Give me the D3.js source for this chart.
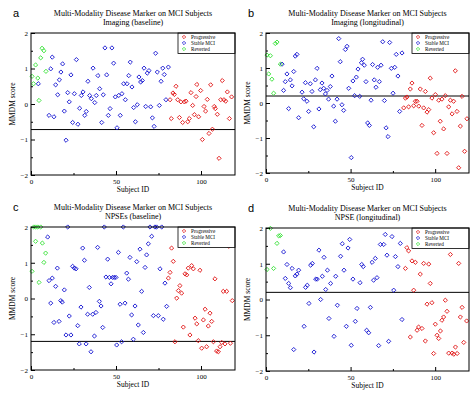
<!DOCTYPE html>
<html><head><meta charset="utf-8">
<script src="https://cdn.jsdelivr.net/npm/d3@7"></script>
<style>body{margin:0;background:#fff}svg{display:block}</style>
</head><body><svg id="c" width="474" height="401"></svg>
<script>
const seriesNames = ["Progressive","Stable MCI","Reverted"];
const xTicks = [0,50,100], yTicks = [-2,-1,0,1,2];
const titles = ["Imaging (baseline)","Imaging (longitudinal)","NPSEs (baseline)","NPSE (longitudinal)"];
const letters = ["a","b","c","d"];
const thresholds = [-0.72, 0.2, -1.2, 0.2];

// panel a
const aRev = [[0.6,0.78],[1.5,0.57],[2.7,1.1],[4,0.73],[4.7,0.1],[5.7,1.3],[6.5,1.57],[7.6,1.5],[8.8,0.92]];
const aSta = [[4.3,0.57],[10.6,-0.32],[11.6,0.99],[12.5,1.32],[13.5,-0.36],[14.5,0.54],[15.7,0.26],[16.7,0.68],[17.6,0.9],[18.6,1.13],[19.6,-0.2],[20.6,-1.02],[21.6,0.32],[22.5,0.06],[23.5,0.82],[24.5,-0.52],[25.5,0.29],[26.7,1.25],[27.6,-0.57],[28.6,-0.12],[29.6,0.24],[30.6,0.34],[31.6,-0.32],[32.5,-0.21],[33.5,0.64],[34.5,0.24],[35.5,0.15],[36.5,1.01],[37.5,0.04],[38.4,0.24],[39.4,0.8],[40.4,0.43],[41.6,-0.52],[42.5,0.26],[43.5,1.58],[44.5,0.82],[45.5,-0.32],[46.5,-0.13],[47.6,1.58],[48.6,1.15],[49.6,0.2],[50.6,-0.67],[51.6,0.24],[52.5,-0.32],[53.5,0.29],[54.5,0.57],[55.5,0.12],[56.5,0.57],[57.5,0.8],[58.4,1.18],[59.4,0.48],[60.4,-0.1],[61.4,-0.5],[62.5,-0.02],[63.5,0.76],[64.5,0.62],[65.5,0.66],[66.5,1.01],[67.5,-0.07],[68.4,0.87],[69.4,0.94],[70.4,-0.08],[71.4,-0.39],[72.4,-0.63],[73.3,1.43],[74.3,0.9],[75.5,-0.04],[76.5,0.64],[77.5,1.01],[78.4,0.83],[79.4,0.12],[80.8,1.04]];
const aPro = [[81.8,0.12],[82.5,-0.41],[83.5,0.31],[84.3,0.27],[85.3,0.5],[86.3,0.12],[87.3,-0.38],[88.2,0.06],[89.2,-0.52],[90.2,0.06],[91.2,0.08],[92.2,-0.5],[93.1,-0.41],[94.1,0.32],[95.1,-0.04],[96.1,-0.3],[97.1,0.21],[97.6,0.55],[98.6,-0.36],[99.8,0.38],[100.8,-1.0],[101.8,-0.07],[102.7,-0.2],[103.7,0.13],[104.7,-0.83],[105.7,0.54],[106.7,-0.71],[107.8,-0.07],[108.4,-0.13],[109.6,-0.29],[110.6,-1.53],[111.6,0.12],[112.5,0.66],[113.5,0.12],[114.5,0.08],[115.5,0.34],[116.7,-0.41],[118,0.2]];

// panel b
const bRev = [[0.6,1.37],[1.6,0.83],[2.6,1.35],[3.5,0.68],[4.5,0.28],[5.5,1.7],[6.5,1.74],[8.5,1.11]];
const bSta = [[9.5,1.11],[10.4,0.36],[11.4,0.61],[12.4,0.83],[13.4,-0.16],[14.4,0.66],[15.4,0.49],[16.4,0.9],[17.3,1.34],[18.3,1.39],[19.3,-0.42],[21.3,0.31],[22.3,0.12],[23.3,0.58],[24.2,0.05],[25.2,-0.24],[26.2,0.55],[27.2,0.33],[28.2,-0.68],[29.2,0.66],[30.2,0.99],[31.3,-0.17],[32.1,0.38],[33.1,0.57],[34.1,0.42],[35.1,0.26],[36.1,0.36],[37,0.11],[38,0.47],[39,0.77],[40,-0.09],[41,-0.52],[42,0.11],[43,1.84],[43.9,1.18],[44.9,-0.05],[45.9,-0.21],[46.9,1.53],[47.9,1.62],[48.9,0.42],[50.4,-1.56],[51.4,0.63],[52.4,0.21],[53.4,0.74],[54.4,0.97],[55.4,0.19],[56.4,1.15],[57.1,1.25],[58.1,1.08],[59.1,0.61],[60.1,-0.57],[61.1,-0.64],[62.1,0.08],[63,1.1],[64,0.66],[65,0.45],[66,1.02],[67,0.61],[68,1.08],[69,1.75],[70,0.07],[71,-0.71],[72.1,-0.96],[73.1,1.73],[74.1,0.99],[75.1,0.28],[76.1,1.02],[77,1.39],[78,0.77],[79,-0.24],[80.4,1.43]];
const bPro = [[81.4,-0.14],[82.4,0.14],[83.3,0.17],[84.3,-0.11],[85.3,0.4],[86.3,0.57],[87.3,-0.08],[88.3,0.05],[89.3,0.05],[90.3,-0.09],[91.2,0.4],[92.2,-0.64],[93.2,-0.14],[94.2,0.33],[95.2,-0.26],[96.2,-0.19],[97.1,0.71],[98.1,0.14],[99.1,-0.85],[100.1,0.24],[101.1,-1.44],[102.1,0.08],[103,-0.52],[104,0.11],[105,-0.74],[106,0.21],[107,-1.44],[108,-0.11],[109,0.08],[110,-0.31],[110.9,0.05],[111.9,0.92],[112.9,-0.24],[113.9,-1.85],[114.9,-0.66],[115.9,0.19],[117.4,-1.38],[118.8,-0.45]];

// panel c
const cRev = [[0.6,0.76],[1.6,2],[2.7,2],[2.7,1.6],[4,2],[4.7,0.45],[5.7,2],[6.7,1.55],[7.6,1.01],[8.6,1.27]];
const cSta = [[9.8,1.72],[10.6,0.5],[11.6,-0.13],[12.5,0.57],[13.5,-0.67],[14.5,0.34],[15.5,0.85],[16.5,-0.64],[17.5,-0.06],[18.4,-0.1],[19.6,0.24],[20.6,-1.02],[21.6,2],[22.5,-0.49],[23.5,-1.02],[24.5,0.9],[25.5,0.85],[26.5,0.83],[27.5,-0.76],[28.4,-1.27],[29.4,-0.24],[30.4,1.41],[31.4,1.07],[32.4,-1.27],[33.3,-0.44],[34.3,0.31],[35.3,-1.49],[36.3,-0.44],[37.3,-1.05],[38.2,-0.39],[39.2,1.43],[40.2,-0.08],[41.2,-0.21],[42.2,-0.81],[43.1,2],[44.1,0.6],[45.1,1.1],[46.1,0.59],[47.1,0.41],[48,0.59],[49,0.59],[50,0.59],[50.4,-1.3],[51.4,1.29],[52.4,-0.16],[53.3,-1.21],[54.3,2],[55.3,-0.13],[56.3,0.71],[57.3,0.54],[58.2,1.15],[59.2,-0.46],[60.2,-1.14],[61.2,-0.21],[62.2,1.03],[63.1,-0.74],[64.1,1.38],[65.1,0.2],[66.1,-0.95],[67.1,0.87],[68,1.22],[69,1.53],[70,2],[71,1.74],[72,-0.48],[72.9,2],[73.9,2],[74.9,-0.48],[75.9,0.83],[76.9,2],[77.8,-0.58],[78.8,0.43],[79.8,-0.22]];
const cPro = [[80.8,0.57],[81.8,0.73],[82.7,1.41],[83.7,1.04],[84.7,-1.21],[85.7,0.01],[86.7,0.22],[87.6,0.36],[88.6,0.15],[89.6,-0.8],[90.6,0.69],[91.6,0.66],[92.5,0.85],[93.5,-1.02],[94.5,0.92],[95.5,0.83],[96.5,-0.55],[97.5,-0.71],[98.4,-1.18],[99.4,0.79],[100.4,-1.39],[101.4,-0.6],[102.4,-0.3],[103.3,-1.35],[104.3,-0.77],[105.3,-0.41],[106.3,-0.64],[107.3,-1.21],[108.2,0.55],[109.2,-1.47],[110.2,-1.49],[111.2,-1.35],[112.2,-1.23],[113.1,0.2],[114.1,-1.27],[115.1,0.2],[116.3,1.46],[117.3,-1.25],[118.4,-0.06]];

// panel d
const dRev = [[0.6,0.84],[2.6,1.99],[4.5,0.87],[6.5,1.57],[7.5,1.78],[8.5,1.79]];
const dSta = [[10.4,1.33],[11.4,0.59],[12.4,0.98],[13.4,0.45],[14.4,0.33],[15.4,0.87],[16.4,-1.4],[17.3,0.66],[18.3,0.71],[19.3,0.82],[22.5,-0.75],[23.4,0.34],[24.4,0.4],[25.4,-0.11],[26.4,0.96],[27.4,1.01],[28.4,-1.47],[29.4,0.57],[30.3,0.57],[31.3,1.38],[32.3,0],[33.3,0.65],[34.3,1.18],[35.3,0.28],[36.3,0.82],[37.2,-0.53],[38.2,0.45],[40.2,-1.03],[41.2,0.65],[42.2,-0.16],[44.1,1.21],[45.1,1.56],[46.1,0.82],[47.5,-0.75],[48.5,1.44],[49.5,1.68],[50.4,-1.28],[51.4,0.57],[52.8,-0.61],[53.8,-0.25],[55.6,0.47],[56.6,0.98],[57.5,0.92],[59.5,-0.86],[60.7,-0.93],[61.7,-0.22],[62.7,1.04],[63.6,0.54],[64.6,1.15],[65.6,0.61],[66.6,-1.29],[67.6,1.54],[69.6,1.54],[70.5,1.82],[71.5,1.24],[72.5,-1.17],[74.5,1.76],[75.5,0.26],[76.5,1.2],[78,0.92],[79.4,1.57],[80.4,-0.56]];
const dPro = [[82.4,0.87],[83.3,1.45],[84.3,1.36],[85.3,-1.05],[86.3,1.08],[87.3,0.26],[88.3,1.04],[89.3,-0.86],[90.2,-0.77],[91.2,0.71],[92.2,-0.81],[93.2,1.01],[94.2,-1.16],[95.2,-0.13],[96.2,0.99],[97.1,0.45],[98.1,-0.09],[99.1,-1.51],[100.1,-0.69],[101.1,-1.0],[102.1,-1.09],[103.1,-0.88],[104,-0.58],[105,-0.49],[106,-0.02],[107,-0.33],[108,-1.5],[109,1.26],[110,-1.5],[111,-1.53],[112,-1.33],[113,-1.51],[113.9,1.01],[114.9,-0.49],[115.9,-0.22],[116.9,-1.2],[118.6,-0.6]];

const panelData = [[aPro,aSta,aRev],[bPro,bSta,bRev],[cPro,cSta,cRev],[dPro,dSta,dRev]];
const colors = ["#e01010","#1010d0","#30e030"];
const boxes = [[31,33,235,175],[266,33,469,173],[31,227,235,370],[266,228,469,371]];
const serif = "'Liberation Serif','DejaVu Serif',serif";
const svg = d3.select("#c");
const diamond = (s,cx,cy,r=2.1)=>s.append("path").attr("d",`M${cx},${cy-r}L${cx+r},${cy}L${cx},${cy+r}L${cx-r},${cy}Z`);

panelData.forEach((groups,i)=>{
  const [x0,y0,x1,y1] = boxes[i];
  const x = d3.scaleLinear().domain([0,120]).range([x0,x1]);
  const y = d3.scaleLinear().domain([-2,2]).range([y1,y0]);
  const g = svg.append("g");
  const cx = (x0+x1)/2;
  g.append("text").attr("x",x0-18).attr("y",y0-16).attr("font-family","'Liberation Sans',Arial,sans-serif").attr("font-size",11).text(letters[i]);
  g.append("text").attr("x",cx).attr("y",y0-17).attr("text-anchor","middle").attr("font-family",serif).attr("font-size",8).text("Multi-Modality Disease Marker on MCI Subjects");
  g.append("text").attr("x",cx).attr("y",y0-8).attr("text-anchor","middle").attr("font-family",serif).attr("font-size",8).text(titles[i]);
  // ticks inward
  const xa = d3.axisBottom(x).tickValues(xTicks).tickSize(-4).tickPadding(4).tickFormat(d3.format("d"));
  const gx = g.append("g").attr("transform",`translate(0,${y1})`).call(xa);
  const gxm = g.append("g").attr("transform",`translate(0,${y1})`).call(d3.axisBottom(x).tickValues([25,75]).tickSize(-2).tickFormat(""));
  const ya = d3.axisLeft(y).tickValues(yTicks).tickSize(-4).tickPadding(3).tickFormat(d3.format("d"));
  const gy = g.append("g").attr("transform",`translate(${x0},0)`).call(ya);
  const gym = g.append("g").attr("transform",`translate(${x0},0)`).call(d3.axisLeft(y).tickValues([-1.5,-0.5,0.5,1.5]).tickSize(-2).tickFormat(""));
  [gx,gy,gxm,gym].forEach(a=>{a.select(".domain").remove();a.selectAll("text").attr("font-family",serif).attr("font-size",7).attr("fill","#000");});
  g.append("text").attr("x",cx).attr("y",y1+17).attr("text-anchor","middle").attr("font-family",serif).attr("font-size",7.5).text("Subject ID");
  g.append("text").attr("transform",`translate(${x0-16},${(y0+y1)/2}) rotate(-90)`).attr("text-anchor","middle").attr("font-family",serif).attr("font-size",7.5).text("MMDM score");
  g.append("line").attr("x1",x0).attr("x2",x1).attr("y1",y(thresholds[i])).attr("y2",y(thresholds[i])).attr("stroke","#000").attr("stroke-width",1);
  groups.forEach((pts,k)=>{
    pts.forEach(p=>diamond(g,x(p[0]),y(p[1])).attr("fill","none").attr("stroke",colors[k]).attr("stroke-width",0.9));
  });
  // legend
  const lx = x1-57, ly = y0;
  g.append("rect").attr("x",lx).attr("y",ly).attr("width",57).attr("height",20.5).attr("fill","#fff").attr("stroke","#000").attr("stroke-width",0.8);
  seriesNames.forEach((n,k)=>{
    diamond(g,lx+6,ly+4+k*6,1.7).attr("fill","none").attr("stroke",colors[k]).attr("stroke-width",0.8);
    g.append("text").attr("x",lx+13).attr("y",ly+6+k*6).attr("font-family",serif).attr("font-size",5.2).text(n);
  });
  g.append("rect").attr("x",x0).attr("y",y0).attr("width",x1-x0).attr("height",y1-y0).attr("fill","none").attr("stroke","#000").attr("stroke-width",1);
});
</script></body></html>
